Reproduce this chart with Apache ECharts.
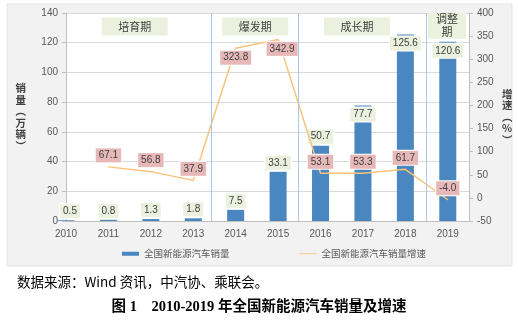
<!DOCTYPE html>
<html>
<head>
<meta charset="utf-8">
<script src="https://cdn.jsdelivr.net/npm/echarts@6/dist/echarts.min.js"></script>
<style>
  html, body { margin: 0; padding: 0; background: #fff; }
  #chart { width: 518px; height: 321px; }
</style>
</head>
<body>
<div id="chart"></div>
<script>
// 数据
const years = [2010, 2011, 2012, 2013, 2014, 2015, 2016, 2017, 2018, 2019]
const sales = [0.5, 0.8, 1.3, 1.8, 7.5, 33.1, 50.7, 77.7, 125.6, 120.6]
const growth = [null, 67.1, 56.8, 37.9, 323.8, 342.9, 53.1, 53.3, 61.7, -4.0]
const phaseNames = ['培育期', '爆发期', '成长期', '调整\n期']
const phaseX = [2011.62, 2014.46, 2016.86, 2018.98]
const phaseY = [130.9, 130.9, 130.9, 131.5]
const dividerX = [2013.42, 2015.47, 2018.5]

const numFont = 'Liberation Sans, Noto Sans CJK SC'
const cjkFont = 'Noto Sans CJK SC'
const barColor = '#4a86bf'
const lineColor = '#f9c37c'

const chart = echarts.init(document.getElementById('chart'))

// 柱子标签：后三根放在柱内
const barData = years.map((y, i) => ({
  value: [y, sales[i]],
  label: i >= 7
    ? { position: 'insideTop', distance: 2 }
    : { position: 'top', distance: 2, offset: i === 0 ? [4, 0] : [0, 0] }
}))

// 折线标签：2014、2015 放在下方
const lineData = years.map((y, i) => {
  if (growth[i] == null) return [y, null]
  const below = i === 4 || i === 5
  return {
    value: [y, growth[i]],
    label: below
      ? { position: 'bottom', distance: 2, offset: i === 5 ? [4, 0] : [0, 0] }
      : { position: 'top', distance: 4 }
  }
})

chart.setOption({
  backgroundColor: '#fff',
  animation: false,
  graphic: {
    elements: [{
      type: 'rect', z: -10, silent: true,
      shape: { x: 7, y: 4, width: 505, height: 262 },
      style: { fill: '#f2f2f2', stroke: '#e4e4e4' }
    }]
  },
  title: [
    {
      text: '数据来源：Wind 资讯，中汽协、乘联会。',
      left: 17, top: 275, padding: 0,
      textStyle: { fontSize: 13.5, fontWeight: 'normal', color: '#000', fontFamily: cjkFont }
    },
    {
      text: '图 1    2010-2019 年全国新能源汽车销量及增速',
      left: 'center', top: 300, padding: 0,
      textStyle: { fontSize: 14.5, fontWeight: 'bold', color: '#000', fontFamily: 'Liberation Serif, Noto Sans CJK SC' }
    }
  ],
  legend: {
    left: 122, top: 249, padding: 0, itemGap: 70,
    itemWidth: 17, itemHeight: 4,
    textStyle: { fontSize: 9.5, color: '#595959', fontFamily: cjkFont },
    data: [
      { name: '全国新能源汽车销量', icon: 'rect' },
      { name: '全国新能源汽车销量增速', icon: 'path://M0,0 L18,0 L18,1 L0,1 Z' }
    ]
  },
  grid: {
    left: 66, right: 49, top: 13, bottom: 100,
    show: true, backgroundColor: '#fff', borderWidth: 0
  },
  xAxis: {
    type: 'value', min: 2010, max: 2019.5, interval: 1,
    axisLine: { onZero: false, lineStyle: { color: '#bfbfbf' } },
    axisTick: { show: false },
    splitLine: { show: false },
    axisLabel: {
      margin: 8, color: '#595959', fontSize: 10, fontFamily: numFont,
      showMaxLabel: false,
      formatter: v => Number.isInteger(v) ? String(v) : ''
    }
  },
  yAxis: [
    {
      type: 'value', min: 0, max: 140, interval: 20,
      name: '销\n量\n︵\n万\n辆\n︶',
      nameLocation: 'middle', nameRotate: 0, nameGap: 40,
      nameTextStyle: { fontSize: 10.5, fontWeight: 'bold', color: '#404040', fontFamily: cjkFont, lineHeight: 11.5 },
      axisLine: { show: true, lineStyle: { color: '#bfbfbf' } },
      axisTick: { show: true, length: 4, lineStyle: { color: '#bfbfbf' } },
      splitLine: { lineStyle: { color: '#d9d9d9' } },
      axisLabel: { margin: 8, color: '#595959', fontSize: 10, fontFamily: numFont }
    },
    {
      type: 'value', min: -50, max: 400, interval: 50,
      name: '增\n速\n︵\n%\n︶',
      nameLocation: 'middle', nameRotate: 0, nameGap: 33,
      nameTextStyle: { fontSize: 10.5, fontWeight: 'bold', color: '#404040', fontFamily: cjkFont, lineHeight: 11.5 },
      axisLine: { show: true, lineStyle: { color: '#bfbfbf' } },
      axisTick: { show: true, length: 4, lineStyle: { color: '#bfbfbf' } },
      splitLine: { show: false },
      axisLabel: { margin: 8, color: '#595959', fontSize: 10, fontFamily: numFont }
    }
  ],
  series: [
    {
      name: '全国新能源汽车销量',
      type: 'bar',
      barWidth: 17,
      itemStyle: { color: barColor },
      label: {
        show: true, color: '#404040', fontSize: 10, fontFamily: numFont,
        backgroundColor: '#ebf1de', borderColor: '#fff', borderWidth: 1, padding: [2, 3],
        formatter: p => p.value[1].toFixed(1)
      },
      data: barData,
      markLine: {
        silent: true, symbol: 'none',
        label: { show: false },
        lineStyle: { color: '#a9c8e8', width: 1, type: 'solid' },
        data: dividerX.map(x => ({ xAxis: x }))
      },
      markPoint: {
        silent: true,
        data: phaseNames.map((n, i) => ({
          name: n,
          coord: [phaseX[i], phaseY[i]],
          symbol: 'rect',
          symbolSize: i === 3 ? [38, 26] : [66, 18],
          itemStyle: { color: '#ebf1de' },
          label: {
            show: true, position: 'inside', formatter: n,
            color: '#404040', fontSize: 11, fontFamily: cjkFont, lineHeight: 13
          }
        }))
      }
    },
    {
      name: '全国新能源汽车销量增速',
      type: 'line',
      yAxisIndex: 1,
      symbol: 'circle',
      symbolSize: 1,
      z: 3,
      lineStyle: { color: lineColor, width: 1.5 },
      itemStyle: { color: lineColor },
      label: {
        show: true, color: '#404040', fontSize: 10, fontFamily: numFont,
        backgroundColor: '#e6b9b8', borderColor: '#fff', borderWidth: 1, padding: [2, 3],
        formatter: p => p.value[1].toFixed(1)
      },
      data: lineData
    }
  ]
})
</script>
</body>
</html>
